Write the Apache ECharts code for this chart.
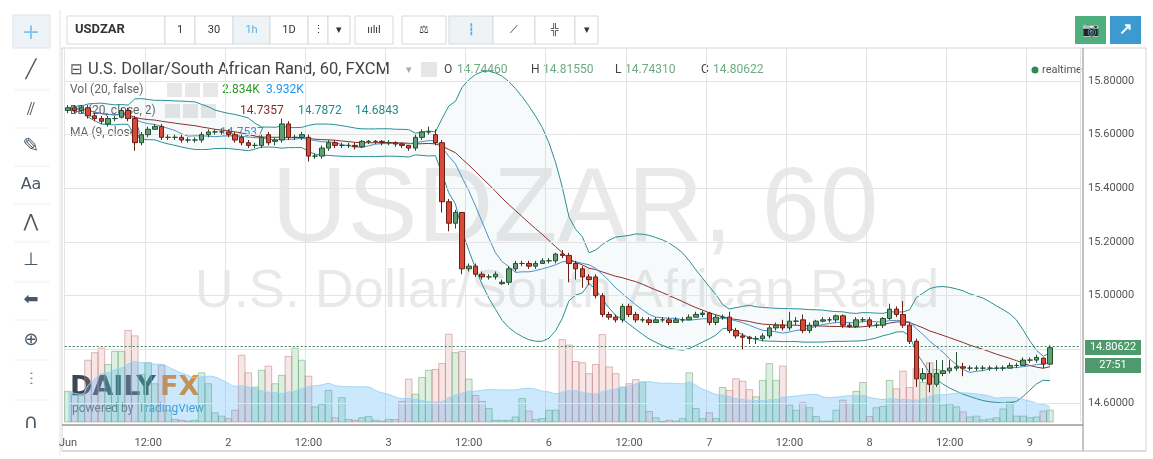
<!DOCTYPE html>
<html><head><meta charset="utf-8">
<script src="https://cdn.jsdelivr.net/npm/echarts@6/dist/echarts.min.js"></script>
<style>html,body{margin:0;padding:0;background:#fff}#c{width:1153px;height:459px}</style>
</head><body><div id="c"></div>
<script>
const timeTicks = ['Jun','12:00','2','12:00','3','12:00','6','12:00','7','12:00','8','12:00','9'];
const priceTicks = [14.6,14.8,15.0,15.2,15.4,15.6,15.8];
const closeP = [15.70,15.69,15.70,15.67,15.66,15.65,15.66,15.66,15.69,15.66,15.57,15.60,15.62,15.63,15.59,15.59,15.59,15.58,15.58,15.58,
15.60,15.61,15.61,15.61,15.60,15.58,15.57,15.56,15.56,15.59,15.57,15.58,15.64,15.59,15.59,15.60,15.52,15.52,15.55,15.57,
15.56,15.56,15.56,15.555,15.575,15.575,15.575,15.57,15.57,15.565,15.56,15.55,15.59,15.61,15.61,15.57,15.35,15.27,15.31,15.10,
15.11,15.08,15.07,15.07,15.08,15.05,15.10,15.12,15.12,15.11,15.12,15.13,15.13,15.155,15.15,15.12,15.10,15.07,15.06,15.00,
14.93,14.92,14.91,14.96,14.93,14.91,14.91,14.90,14.91,14.91,14.90,14.91,14.91,14.92,14.93,14.935,14.90,14.92,14.92,14.87,
14.85,14.845,14.84,14.84,14.85,14.88,14.89,14.88,14.905,14.905,14.87,14.89,14.905,14.91,14.91,14.925,14.89,14.885,14.91,14.91,
14.89,14.89,14.915,14.95,14.93,14.89,14.83,14.69,14.71,14.67,14.71,14.72,14.73,14.735,14.73,14.73,14.73,14.73,14.73,14.73,
14.73,14.74,14.74,14.76,14.76,14.77,14.745,14.806];
const openP = [15.69,15.70,15.69,15.70,15.67,15.66,15.64,15.66,15.665,15.69,15.66,15.57,15.60,15.62,15.63,15.59,15.59,15.59,15.58,15.58,
15.58,15.60,15.61,15.61,15.61,15.60,15.59,15.57,15.56,15.56,15.60,15.575,15.58,15.64,15.59,15.59,15.59,15.52,15.52,15.55,
15.57,15.56,15.56,15.56,15.555,15.575,15.575,15.575,15.57,15.57,15.565,15.56,15.55,15.59,15.61,15.60,15.57,15.35,15.27,15.31,
15.10,15.11,15.08,15.07,15.07,15.045,15.05,15.10,15.12,15.12,15.11,15.12,15.13,15.13,15.155,15.15,15.12,15.10,15.07,15.07,
15.00,14.93,14.92,14.91,14.96,14.93,14.91,14.91,14.90,14.91,14.91,14.90,14.91,14.91,14.92,14.93,14.935,14.90,14.92,14.92,
14.87,14.85,14.845,14.84,14.84,14.85,14.88,14.89,14.88,14.905,14.91,14.87,14.89,14.905,14.91,14.91,14.925,14.89,14.885,14.91,
14.91,14.89,14.89,14.915,14.95,14.93,14.89,14.83,14.69,14.71,14.67,14.71,14.72,14.73,14.735,14.73,14.73,14.73,14.73,14.73,
14.73,14.73,14.74,14.74,14.76,14.76,14.767,14.745];
const highP = [15.71,15.71,15.71,15.71,15.68,15.67,15.67,15.67,15.70,15.70,15.67,15.61,15.63,15.64,15.64,15.60,15.60,15.60,15.59,15.59,
15.61,15.62,15.62,15.62,15.62,15.61,15.60,15.58,15.57,15.60,15.61,15.59,15.66,15.65,15.60,15.61,15.60,15.53,15.56,15.58,
15.58,15.57,15.57,15.57,15.58,15.58,15.58,15.58,15.58,15.575,15.57,15.56,15.60,15.62,15.63,15.62,15.58,15.36,15.32,15.31,
15.12,15.12,15.09,15.08,15.09,15.06,15.11,15.13,15.13,15.13,15.13,15.14,15.14,15.16,15.17,15.16,15.13,15.11,15.08,15.08,
15.01,14.94,14.93,14.97,14.97,14.94,14.92,14.92,14.92,14.92,14.92,14.92,14.92,14.93,14.94,14.945,14.94,14.93,14.93,14.94,
14.88,14.86,14.85,14.85,14.86,14.89,14.90,14.91,14.94,14.92,14.93,14.90,14.91,14.92,14.92,14.93,14.93,14.90,14.92,14.92,
14.92,14.90,14.92,14.97,14.96,14.98,14.90,14.84,14.73,14.75,14.76,14.76,14.76,14.79,14.75,14.74,14.74,14.74,14.74,14.74,
14.74,14.75,14.75,14.77,14.77,14.78,14.77,14.815];
const lowP = [15.68,15.68,15.68,15.66,15.65,15.64,15.63,15.65,15.66,15.65,15.54,15.56,15.59,15.62,15.58,15.58,15.58,15.57,15.57,15.57,
15.57,15.59,15.60,15.60,15.59,15.57,15.56,15.55,15.55,15.55,15.56,15.56,15.57,15.58,15.58,15.58,15.50,15.51,15.51,15.54,
15.55,15.55,15.55,15.545,15.55,15.565,15.565,15.56,15.56,15.555,15.55,15.54,15.54,15.58,15.60,15.56,15.31,15.24,15.25,15.08,
15.09,15.07,15.06,15.06,15.06,15.04,15.04,15.09,15.11,15.10,15.10,15.12,15.12,15.12,15.14,15.05,15.06,15.03,15.04,14.99,
14.92,14.91,14.90,14.90,14.92,14.90,14.90,14.89,14.90,14.90,14.89,14.90,14.90,14.91,14.92,14.92,14.89,14.89,14.91,14.86,
14.84,14.80,14.82,14.82,14.83,14.84,14.87,14.87,14.87,14.89,14.86,14.86,14.88,14.90,14.90,14.90,14.88,14.88,14.88,14.90,
14.88,14.88,14.88,14.91,14.92,14.88,14.82,14.66,14.68,14.64,14.66,14.70,14.71,14.72,14.70,14.72,14.72,14.72,14.72,14.72,
14.72,14.73,14.73,14.74,14.75,14.75,14.73,14.74];
const volumeK = [7.3,6.3,6.3,14.7,16.5,17.6,13.7,16.8,16.8,21.8,20.5,11.3,14.1,9.1,13.5,2.8,0.6,0.4,0.2,0.4,
11.7,9.1,2.2,1.4,0.8,2.8,15.9,11.7,8.3,12.3,13.3,9.1,11.1,15.6,17.6,14.7,10.9,3.6,4.2,7.5,
1.0,5.8,0.6,0.4,1.0,1.3,0.4,0.2,0.6,0.6,4.9,10.2,6.6,10.6,12.3,12.5,13.9,20.9,16.5,16.8,
10.2,6.3,4.9,3.2,0.4,0.4,0.4,1.2,5.6,2.6,0.6,0.8,2.8,2.8,19.6,18.3,14.4,14.1,11.5,13.7,
20.8,13.1,11.5,8.3,9.1,10.1,9.5,2.5,1.0,0.1,0.4,0.2,0.8,11.7,3.2,0.8,2.2,0.8,8.2,7.5,
10.3,9.7,7.7,6.0,9.9,13.9,9.9,13.3,4.0,2.8,4.6,3.4,1.3,0.2,0.2,2.8,5.2,4.4,7.3,9.4,
1.3,3.4,3.7,9.9,7.9,12.1,8.2,12.7,9.4,14.1,12.5,4.0,4.3,3.6,2.4,1.2,1.4,0.5,0.7,1.0,
3.1,4.8,1.4,1.4,1.0,1.2,2.6,2.834];

const NCAT = 152;
const cats = [];
for (let i = 0; i < NCAT; i++) cats.push(i % 12 === 0 && timeTicks[i/12] !== undefined ? timeTicks[i/12] : '');
const n = closeP.length;
const ohlc = closeP.map((c,i)=>[openP[i], c, lowP[i], highP[i]]);
function sma(arr, p, i){ let s=0,k=0; for(let j=Math.max(0,i-p+1);j<=i;j++){s+=arr[j];k++;} return s/k; }
const basis=[], upper=[], lower=[], ma9=[], volMa=[];
for (let i=0;i<n;i++){
  const m = sma(closeP,20,i); let v=0,k=0;
  for(let j=Math.max(0,i-19);j<=i;j++){v+=(closeP[j]-m)**2;k++;}
  const sd=Math.sqrt(v/k);
  basis.push(m); upper.push(m+2*sd); lower.push(m-2*sd);
  ma9.push(sma(closeP,9,i)); volMa.push(sma(volumeK,20,i));
}
const band = upper.map((u,i)=>u-lower[i]);
const volData = volumeK.map((v,i)=>({value:v,itemStyle: closeP[i]>=openP[i]?
  {color:'rgba(120,190,130,0.25)',borderColor:'rgba(110,170,120,0.55)'}:
  {color:'rgba(215,140,140,0.22)',borderColor:'rgba(200,130,130,0.55)'}}));

const chart = echarts.init(document.getElementById('c'));
const tickShow = (idx)=> idx%12===0 && idx/12 < timeTicks.length;
const G = [];
G.push({type:'rect',shape:{x:13,y:15,width:37,height:33},style:{fill:'#eef3f7',stroke:'#dde3e8'}});
const leftIcons=[['+',33,'#79c6ee',22],['╱',70,'#4a5866',18],['⫽',110,'#4a5866',18],['✎',147,'#4a5866',20],['Aa',185,'#4a5866',16],['⋀',222,'#4a5866',18],['⊥',260,'#4a5866',18],['⬅',300,'#4a5866',18],['⊕',340,'#4a5866',18],['⫶',380,'#4a5866',18],['∩',423,'#4a5866',20]];
leftIcons.forEach(a=>G.push({type:'text',style:{text:a[0],x:31,y:a[1],fill:a[2],fontSize:a[3],align:'center',verticalAlign:'middle',fontFamily:'DejaVu Sans'}}));
[90,128,166,204,242,282,320,360,400].forEach(y=>G.push({type:'line',shape:{x1:14,y1:y,x2:50,y2:y},style:{stroke:'#eee'}}));
G.push({type:'line',shape:{x1:60,y1:10,x2:60,y2:455},style:{stroke:'#e0e3e6'}});
const btns=[[67,165,'USDZAR',0],[165,195,'1',0],[195,233,'30',0],[233,270,'1h',1],[270,308,'1D',0],[308,328,'⋮',0],[328,350,'▾',0],[355,393,'ıılıl',0],[402,446,'⚖',0],[449,493,'┇',1],[493,535,'⟋',0],[535,575,'╬',0],[575,598,'▾',0]];
btns.forEach(b=>{
  G.push({type:'rect',shape:{x:b[0],y:16,width:b[1]-b[0],height:28},style:{fill:b[3]?'#eef3f6':'#fff',stroke:'#d6d9dc'}});
  G.push({type:'text',style:{text:b[2],x:b[2]==='USDZAR'?b[0]+8:(b[0]+b[1])/2,y:30,align:b[2]==='USDZAR'?'left':'center',verticalAlign:'middle',fill:b[2]==='1h'||b[2]==='┇'?'#55b4e6':'#333',fontSize:b[2]==='USDZAR'?13:11,fontWeight:b[2]==='USDZAR'?'bold':'normal',fontFamily:'Roboto'}});
});
G.push({type:'rect',shape:{x:1075,y:16,width:31,height:28},style:{fill:'#4caf7d'}});
G.push({type:'text',style:{text:'📷',x:1090,y:30,align:'center',verticalAlign:'middle',fill:'#fff',fontSize:14}});
G.push({type:'rect',shape:{x:1110,y:16,width:31,height:28},style:{fill:'#3d9ad1'}});
G.push({type:'text',style:{text:'↗',x:1125,y:30,align:'center',verticalAlign:'middle',fill:'#fff',fontSize:16,fontWeight:'bold'}});
G.push({type:'rect',shape:{x:62,y:48,width:1084,height:403},style:{fill:'none',stroke:'#d0d4d8'},z:-1});
G.push({type:'text',z:-1,style:{text:'USDZAR, 60',x:575,y:212,align:'center',verticalAlign:'middle',fill:'rgba(0,0,0,0.085)',fontSize:105,fontFamily:'Liberation Sans'}});
G.push({type:'text',z:-1,style:{text:'U.S. Dollar/South African Rand',x:567,y:292,align:'center',verticalAlign:'middle',fill:'rgba(0,0,0,0.085)',fontSize:54,fontFamily:'Liberation Sans'}});
G.push({type:'text',style:{text:'⊟',x:70,y:70,verticalAlign:'middle',fill:'#555',fontSize:15}});
G.push({type:'text',style:{text:'U.S. Dollar/South African Rand, 60, FXCM',x:88,y:70,verticalAlign:'middle',fill:'#444',fontSize:16.5,fontFamily:'Roboto'}});
G.push({type:'text',style:{text:'▾',x:406,y:70,verticalAlign:'middle',fill:'#aaa',fontSize:11}});
G.push({type:'rect',shape:{x:421,y:62,width:16,height:15},style:{fill:'#e6e6e6'}});
const ohlcTxt=[['O',444,'#444'],['14.74460',457,'#6cac82'],['H',531,'#444'],['14.81550',543,'#6cac82'],['L',615,'#444'],['14.74310',625,'#6cac82'],['C',701,'#444'],['14.80622',713,'#6cac82']];
ohlcTxt.forEach(t=>G.push({type:'text',style:{text:t[0],x:t[1],y:70,verticalAlign:'middle',fill:t[2],fontSize:12,fontFamily:'Roboto'}}));
G.push({type:'circle',shape:{cx:1035,cy:70,r:3.5},style:{fill:'#2e8b57'}});
G.push({type:'text',style:{text:'realtime',x:1042,y:70,verticalAlign:'middle',fill:'#555',fontSize:11,fontFamily:'Roboto'}});
const leg=[[90,'Vol (20, false)',167,[['2.834K','#2a9a2a',222],['3.932K','#2196f3',266]]],[111,'BB (20, close, 2)',165,[['14.7357','#8b2a2a',240],['14.7872','#1f8a8a',298],['14.6843','#1f8a8a',355]]],[133,'MA (9, close)',0,[['14.7537','#4a8fcf',220]]]];
leg.forEach(l=>{
  G.push({type:'text',style:{text:l[1],x:70,y:l[0],verticalAlign:'middle',fill:'#666',fontSize:12,fontFamily:'Roboto'}});
  if(l[2]){ [0,1,2].forEach(k=>G.push({type:'rect',shape:{x:l[2]+k*18,y:l[0]-7,width:15,height:14},style:{fill:'rgba(225,225,225,0.8)'}})); }
  l[3].forEach(v=>G.push({type:'text',style:{text:v[0],x:v[2],y:l[0],verticalAlign:'middle',fill:v[1],fontSize:12,fontFamily:'Roboto'}}));
});
G.push({type:'text',style:{text:'DAILY',x:70,y:388,verticalAlign:'middle',fill:'#3b4653',fontSize:27,fontWeight:'bold',fontFamily:'DejaVu Sans'}});
G.push({type:'text',style:{text:'FX',x:160,y:388,verticalAlign:'middle',fill:'#f58a1f',fontSize:27,fontWeight:'bold',fontFamily:'DejaVu Sans'}});
G.push({type:'text',style:{text:'powered by',x:72,y:409,verticalAlign:'middle',fill:'#5a6570',fontSize:12,fontFamily:'Roboto'}});
G.push({type:'text',style:{text:'TradingView',x:138,y:409,verticalAlign:'middle',fill:'#3d9ad1',fontSize:12,fontFamily:'Roboto'}});
const overlayEls=[
  {type:'rect',z:100,shape:{x:1085,y:340,width:56,height:15},style:{fill:'#4e9a6c'}},
  {type:'text',z:101,style:{text:'14.80622',x:1113,y:347.5,align:'center',verticalAlign:'middle',fill:'#fff',fontSize:11,fontFamily:'Roboto'}},
  {type:'rect',z:100,shape:{x:1085,y:358,width:56,height:15},style:{fill:'#4e9a6c'}},
  {type:'text',z:101,style:{text:'27:51',x:1113,y:365.5,align:'center',verticalAlign:'middle',fill:'#fff',fontSize:11,fontFamily:'Roboto'}},
  {type:'line',shape:{x1:62,y1:425,x2:1083,y2:425},style:{stroke:'#666'}},
  {type:'line',shape:{x1:1083,y1:48,x2:1083,y2:451},style:{stroke:'#888'}},
  {type:'line',shape:{x1:62,y1:451,x2:1146,y2:451},style:{stroke:'#ccc'}}
];

chart.setOption({
  animation:false,
  graphic:G.concat(overlayEls),
  grid:[{left:64.66,right:1153-1080,top:27.3,bottom:459-456.7},{left:64.66,right:1153-1080,top:48,bottom:37}],
  xAxis:[
    {type:'category',data:cats,gridIndex:0,show:false},
    {type:'category',data:cats,gridIndex:1,axisLine:{show:false},axisTick:{show:false},
     axisLabel:{interval:(i)=>tickShow(i),color:'#555',fontSize:11,margin:16,fontFamily:'Roboto'},
     splitLine:{show:true,interval:(i)=>tickShow(i),lineStyle:{color:'#e4e4e4'}}}
  ],
  yAxis:[
    {type:'value',gridIndex:0,min:14.4,max:16.0,position:'right',
     axisLine:{show:false},axisTick:{show:false},
     axisLabel:{customValues:priceTicks,formatter:(v)=>v.toFixed(5),color:'#555',fontSize:11,margin:8,fontFamily:'Roboto'},
     splitLine:{show:false}},
    {type:'value',gridIndex:1,min:0,max:89,show:false,splitLine:{show:false}}
  ],
  series:[
    {type:'line',xAxisIndex:0,yAxisIndex:0,data:priceTicks.map(()=>null),symbol:'none',
     markLine:{silent:true,symbol:'none',label:{show:false},lineStyle:{color:'#e4e4e4',type:'solid',width:1},data:priceTicks.map(p=>({yAxis:p}))}},
    {type:'line',data:lower,symbol:'none',stack:'bb',lineStyle:{color:'#2a8f93',width:1},z:2},
    {type:'line',data:band,symbol:'none',stack:'bb',lineStyle:{color:'#2a8f93',width:1},areaStyle:{color:'rgba(42,150,150,0.06)'},z:2},
    {type:'line',data:basis,symbol:'none',lineStyle:{color:'#8b2f2f',width:1},z:3},
    {type:'line',data:ma9,symbol:'none',lineStyle:{color:'#4a90c8',width:1},z:3},
    {type:'bar',xAxisIndex:1,yAxisIndex:1,data:volData,barWidth:6.6,z:1},
    {type:'line',xAxisIndex:1,yAxisIndex:1,data:volMa,symbol:'none',smooth:true,lineStyle:{color:'#9fd3f7',width:1},areaStyle:{color:'rgba(60,170,245,0.38)'},z:2},
    {type:'candlestick',data:ohlc,barWidth:5,z:5,
     itemStyle:{color:'#5f9f72',color0:'#d64a38',borderColor:'#24502f',borderColor0:'#6b1e16',borderWidth:1},
     markLine:{silent:true,symbol:'none',label:{show:false},lineStyle:{color:'#3f7d5a',type:[2,2],width:1},data:[{yAxis:14.80622}]}}
  ]
});
</script></body></html>
